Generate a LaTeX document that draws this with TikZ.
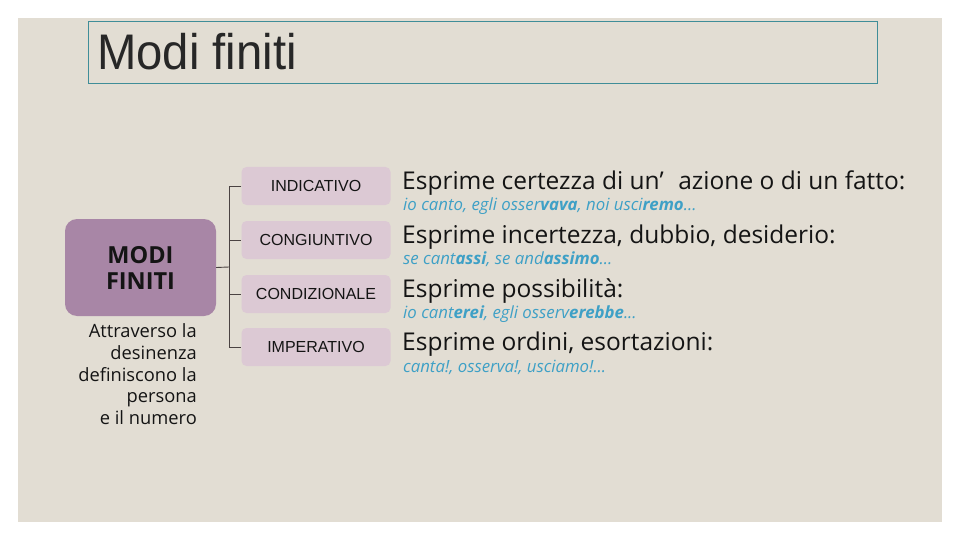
\documentclass[tikz,border=0pt]{standalone}
\usepackage{fontspec}
\setmainfont{Open Sans}
\newfontfamily\arialf{Liberation Sans}
\newfontfamily\titlef[FakeStretch=0.945]{Liberation Sans}
\definecolor{bgpage}{HTML}{E2DDD3}
\definecolor{titleline}{HTML}{3F8D98}
\definecolor{mauve}{HTML}{A886A6}
\definecolor{lilac}{HTML}{DCC9D4}
\definecolor{connc}{HTML}{4A4242}
\definecolor{exblue}{HTML}{3EA0C6}
\definecolor{txt}{HTML}{141414}
\tikzset{
  modebox/.style={draw=none, fill=lilac, rounded corners=5pt, minimum width=149pt, minimum height=38pt, inner sep=0pt, font=\arialf\fontsize{16}{18}\selectfont, text=txt},
  conn/.style={draw=connc, line width=0.9pt},
  desc/.style={anchor=base west, inner sep=0pt, font=\fontsize{24.5}{28}\selectfont, text=txt},
  ex/.style={anchor=base west, inner sep=0pt, font=\itshape\fontsize{16.8}{19}\selectfont, text=exblue},
}
\begin{document}
\begin{tikzpicture}[x=1pt,y=-1pt]
\useasboundingbox (0,0) rectangle (960,540);
\fill[white] (0,0) rectangle (960,540);
\fill[bgpage] (18,18) rectangle (942,522);
\node[draw=titleline, line width=0.8pt, minimum width=789pt, minimum height=62pt, inner sep=0pt, anchor=north west] (title) at (88,21) {};
\node[anchor=base west, inner sep=0pt, font=\titlef\fontsize{50}{56}\selectfont, text=txt!92!white] (titletxt) at (97,70) {Modi finiti};

\node[fill=mauve, rounded corners=12pt, minimum width=151pt, minimum height=97pt, inner sep=0pt, align=center, font=\bfseries\fontsize{23.5}{26}\selectfont, text=txt] (mf) at (140.5,267.5) {MODI\\FINITI};
\node[anchor=north east, inner sep=0pt, align=right, font=\fontsize{18.3}{21.7}\selectfont, text=txt] (note) at (197,323.5) {Attraverso la\\desinenza\\definiscono la\\persona\\e il numero};

\node[modebox] (ind) at (316,186) {INDICATIVO};
\node[modebox] (cong) at (316,240) {CONGIUNTIVO};
\node[modebox] (cond) at (316,294) {CONDIZIONALE};
\node[modebox] (imp) at (316,347) {IMPERATIVO};

\coordinate (jt) at (229,267);
\draw[conn] (mf.east) -- (jt);
\draw[conn] (ind.west) -- (ind.west -| jt) |- (imp.west);
\draw[conn] (cong.west -| jt) -- (cong.west);
\draw[conn] (cond.west -| jt) -- (cond.west);

\node[desc] (d1) at (402,189.5) {Esprime certezza di un’\hspace{0.6em}azione o di un fatto:};
\node[ex] (e1) at (403,210) {io canto, egli osser\textbf{vava}, noi usci\textbf{remo}...};
\node[desc] (d2) at (402,243.5) {Esprime incertezza, dubbio, desiderio:};
\node[ex] (e2) at (403,264) {se cant\textbf{assi}, se and\textbf{assimo}...};
\node[desc] (d3) at (402,297.5) {Esprime possibilità:};
\node[ex] (e3) at (403,318) {io cant\textbf{erei}, egli osserv\textbf{erebbe}...};
\node[desc] (d4) at (402,350.5) {Esprime ordini, esortazioni:};
\node[ex] (e4) at (403,372) {canta!, osserva!, usciamo!...};
\end{tikzpicture}
\end{document}
